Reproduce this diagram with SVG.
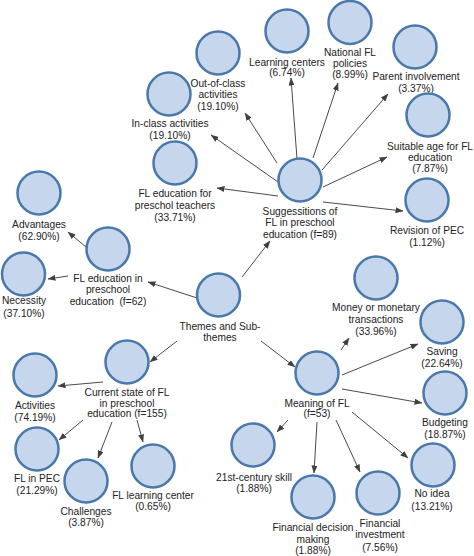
<svg xmlns="http://www.w3.org/2000/svg" width="474" height="556" viewBox="0 0 474 556">
<defs>
<marker id="ah" markerWidth="8" markerHeight="6" refX="7.5" refY="3" orient="auto" markerUnits="userSpaceOnUse">
<path d="M0,0 L8,3 L0,6 z" fill="#404040"/>
</marker>
<style>
.n circle{fill:#c6d6ec;stroke:#4a78aa;stroke-width:2.5}
.n text{font-family:"Liberation Sans",Arial,sans-serif;font-size:10.2px;fill:#222;text-anchor:middle;white-space:pre}
#connectors line{stroke:#4a4a4a;stroke-width:1;marker-end:url(#ah)}
</style>
</defs>
<rect width="474" height="556" fill="#fff"/>
<g id="connectors">
<line x1="197" y1="298" x2="148" y2="282"/>
<line x1="242" y1="277" x2="270" y2="241"/>
<line x1="177" y1="341" x2="150" y2="362"/>
<line x1="261" y1="341" x2="295" y2="367"/>
<line x1="277" y1="163" x2="245" y2="113"/>
<line x1="297" y1="159" x2="291" y2="78"/>
<line x1="313" y1="158" x2="338" y2="83"/>
<line x1="322" y1="170" x2="388" y2="94"/>
<line x1="323" y1="187" x2="387" y2="157"/>
<line x1="323" y1="202" x2="403" y2="211"/>
<line x1="278" y1="182" x2="211" y2="135"/>
<line x1="278" y1="196" x2="217" y2="188"/>
<line x1="86" y1="247" x2="68" y2="232"/>
<line x1="68" y1="276" x2="48" y2="279"/>
<line x1="103" y1="382" x2="58" y2="386"/>
<line x1="83" y1="420" x2="59" y2="440"/>
<line x1="112" y1="422" x2="98" y2="458"/>
<line x1="137" y1="420" x2="143" y2="442"/>
<line x1="341" y1="350" x2="349" y2="338"/>
<line x1="342" y1="375" x2="418" y2="344"/>
<line x1="342" y1="389" x2="422" y2="403"/>
<line x1="288" y1="420" x2="277" y2="432"/>
<line x1="317" y1="422" x2="314" y2="473"/>
<line x1="336" y1="420" x2="360" y2="472"/>
<line x1="352" y1="412" x2="408" y2="458"/>
</g>
<g id="themes" class="n"><circle cx="218.5" cy="295" r="21.5"/><text x="220" y="329.5">Themes and Sub-</text><text x="220" y="340.5">themes</text></g>
<g id="suggestions" class="n"><circle cx="300" cy="180" r="21.5"/><text x="300" y="214.5">Suggessitions of</text><text x="300" y="226">FL in preschool</text><text x="300" y="237.5">education (f=89)</text></g>
<g id="fl-education" class="n"><circle cx="108" cy="249" r="21.5"/><text x="108" y="281.5">FL education in</text><text x="108" y="293">preschool</text><text x="108" y="304.5">education  (f=62)</text></g>
<g id="current-state" class="n"><circle cx="127" cy="362" r="21.5"/><text x="127" y="395.5">Current state of FL</text><text x="127" y="406.5">in preschool</text><text x="127" y="417">education (f=155)</text></g>
<g id="meaning" class="n"><circle cx="317" cy="373" r="21.5"/><text x="317" y="406.5">Meaning of FL</text><text x="317" y="417">(f=53)</text></g>
<g id="out-of-class" class="n"><circle cx="218" cy="53" r="21.5"/><text x="218" y="86.5">Out-of-class</text><text x="218" y="98">activities</text><text x="218" y="109.5">(19.10%)</text></g>
<g id="in-class" class="n"><circle cx="169" cy="94" r="21.5"/><text x="170" y="126.5">In-class activities</text><text x="170" y="139">(19.10%)</text></g>
<g id="fl-teachers" class="n"><circle cx="175" cy="163" r="21.5"/><text x="175" y="196.5">FL education for</text><text x="175" y="208.5">preschol teachers</text><text x="175" y="220.5">(33.71%)</text></g>
<g id="learning-centers" class="n"><circle cx="287" cy="31" r="21.5"/><text x="287" y="65.5">Learning centers</text><text x="287" y="76">(6.74%)</text></g>
<g id="national" class="n"><circle cx="350" cy="22.5" r="21.5"/><text x="350" y="55.5">National FL</text><text x="350" y="66.5">policies</text><text x="350" y="78">(8.99%)</text></g>
<g id="parent" class="n"><circle cx="415" cy="47" r="21.5"/><text x="416" y="79.5">Parent involvement</text><text x="416" y="91.5">(3.37%)</text></g>
<g id="suitable-age" class="n"><circle cx="428" cy="115" r="21.5"/><text x="430" y="149.5">Suitable age for FL</text><text x="430" y="160.5">education</text><text x="430" y="171.5">(7.87%)</text></g>
<g id="revision" class="n"><circle cx="427" cy="200" r="21.5"/><text x="427" y="233.5">Revision of PEC</text><text x="427" y="245.5">(1.12%)</text></g>
<g id="advantages" class="n"><circle cx="39" cy="193" r="21.5"/><text x="39" y="227.5">Advantages</text><text x="39" y="239.5">(62.90%)</text></g>
<g id="necessity" class="n"><circle cx="23.5" cy="274" r="21.5"/><text x="24" y="303.5">Necessity</text><text x="24" y="316.5">(37.10%)</text></g>
<g id="money" class="n"><circle cx="376" cy="278" r="21.5"/><text x="376" y="310.5">Money or monetary</text><text x="376" y="322.5">transactions</text><text x="376" y="334.5">(33.96%)</text></g>
<g id="saving" class="n"><circle cx="442" cy="322" r="21.5"/><text x="442" y="354.5">Saving</text><text x="442" y="366.5">(22.64%)</text></g>
<g id="activities" class="n"><circle cx="35" cy="375" r="21.5"/><text x="35" y="408.5">Activities</text><text x="35" y="420.5">(74.19%)</text></g>
<g id="fl-in-pec" class="n"><circle cx="37" cy="449" r="21.5"/><text x="37" y="481.5">FL in PEC</text><text x="37" y="493.5">(21.29%)</text></g>
<g id="challenges" class="n"><circle cx="86" cy="481" r="21.5"/><text x="86" y="514.5">Challenges</text><text x="86" y="525.5">(3.87%)</text></g>
<g id="fl-learning-center" class="n"><circle cx="153" cy="466" r="21.5"/><text x="153" y="498.5">FL learning center</text><text x="153" y="509.5">(0.65%)</text></g>
<g id="budgeting" class="n"><circle cx="445" cy="393" r="21.5"/><text x="445" y="425.5">Budgeting</text><text x="445" y="437.5">(18.87%)</text></g>
<g id="century-skill" class="n"><circle cx="253" cy="445" r="21.5"/><text x="254" y="480.5">21st-century skill</text><text x="254" y="491.5">(1.88%)</text></g>
<g id="financial-decision" class="n"><circle cx="313" cy="497" r="21.5"/><text x="313" y="530.5">Financial decision</text><text x="313" y="542.5">making</text><text x="313" y="553.5">(1.88%)</text></g>
<g id="financial-investment" class="n"><circle cx="378" cy="493" r="21.5"/><text x="380" y="526.5">Financial</text><text x="380" y="537.5">investment</text><text x="380" y="550.5">(7.56%)</text></g>
<g id="no-idea" class="n"><circle cx="433" cy="465" r="21.5"/><text x="432" y="496.5">No idea</text><text x="432" y="509.5">(13.21%)</text></g>
</svg>
